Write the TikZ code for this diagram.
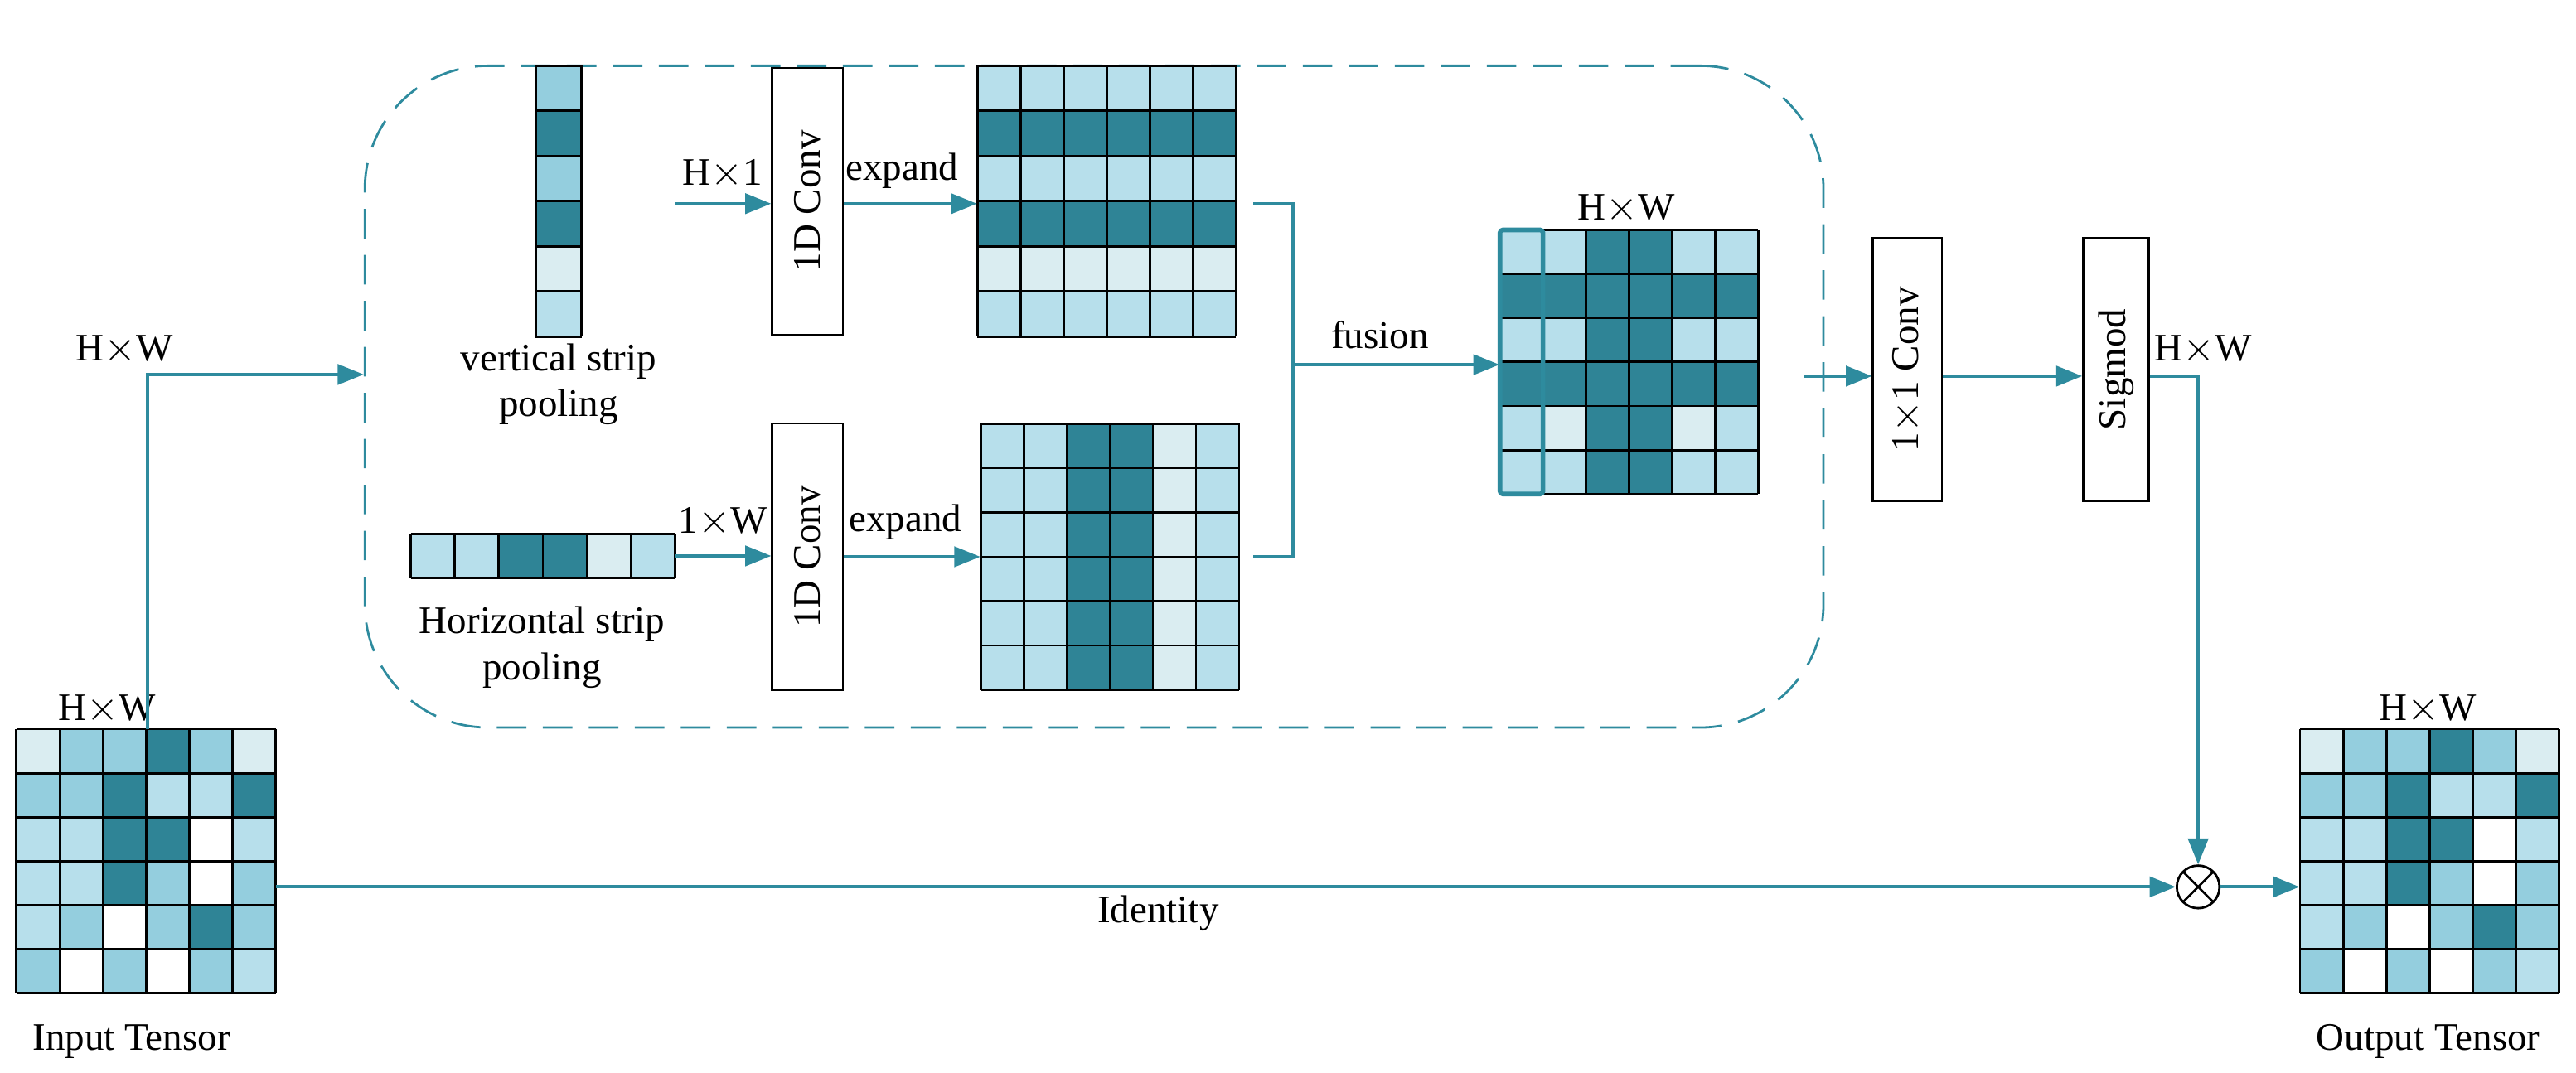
\documentclass[tikz,border=0pt]{standalone}
\usepackage{fontspec}
\setmainfont{Liberation Serif}
\usetikzlibrary{arrows.meta,fit}
\definecolor{cD}{HTML}{2F8496}
\definecolor{cM}{HTML}{94CEDE}
\definecolor{cL}{HTML}{B7DFEB}
\definecolor{cP}{HTML}{DAEDF1}
\definecolor{cW}{HTML}{FFFFFF}
\definecolor{teal}{HTML}{2E8B9E}
\tikzset{
  arr/.style={teal,line width=1.1pt,-{Triangle[length=9pt,width=7pt]}},
  ln/.style={teal,line width=1.1pt},
  lbl/.style={font=\fontsize{13.5}{16}\selectfont,inner sep=1pt},
  box/.style={draw,black,line width=0.7pt,fill=white,minimum width=0.86cm,minimum height=3.25cm,inner sep=0pt,font=\fontsize{13.5}{16}\selectfont},
}
% name, x0, y0, cw, ch, rows, ncol, nrow
\newcommand\tgrid[8]{%
  \foreach \row [count=\r from 0] in {#6}{%
    \foreach \c [count=\k from 0] in \row {%
      \fill[c\c] ({#2+\k*#4},{#3+\r*#5}) rectangle ++(#4,#5);}}
  \foreach \i in {0,...,#7}{\draw[black,line width=0.8pt] ({#2+\i*#4},#3) -- ++(0,{#8*#5});}
  \foreach \j in {0,...,#8}{\draw[black,line width=0.8pt] (#2,{#3+\j*#5}) -- ++({#7*#4},0);}
  \coordinate (#1-a) at (#2,#3);
  \coordinate (#1-b) at ({#2+#7*#4},{#3+#8*#5});
  \node[fit=(#1-a)(#1-b),inner sep=0pt] (#1) {};
}
\begin{document}
\begin{tikzpicture}[x=0.02cm,y=-0.02cm]
\useasboundingbox (0,0) rectangle (1568,653);
% dashed region
\node[draw=teal,line width=0.8pt,dash pattern=on 0.36cm off 0.2cm,rounded corners=1.5cm,
  minimum width=17.76cm,minimum height=8.06cm,inner sep=0pt] (region) at (666,241.5) {};
% vertical strip
\tgrid{vs}{326}{40}{28}{27.5}{{M},{D},{M},{D},{P},{L}}{1}{6}
\node[lbl,align=center] (vsl) at (340,234) {vertical strip\\pooling};
% horizontal strip
\tgrid{hs}{250}{325}{26.8}{27}{{L,L,D,D,P,L}}{6}{1}
\node[lbl,align=center] (hsl) at (330,394) {Horizontal strip\\pooling};
% conv boxes
\node[box] (c1) at (491.5,122.5) {\rotatebox{90}{1D Conv}};
\node[box] (c2) at (491.5,339) {\rotatebox{90}{1D Conv}};
% expanded grids
\tgrid{g1}{595}{40}{26.2}{27.5}{{L,L,L,L,L,L},{D,D,D,D,D,D},{L,L,L,L,L,L},{D,D,D,D,D,D},{P,P,P,P,P,P},{L,L,L,L,L,L}}{6}{6}
\tgrid{g2}{597}{258}{26.2}{27}{{L,L,D,D,P,L},{L,L,D,D,P,L},{L,L,D,D,P,L},{L,L,D,D,P,L},{L,L,D,D,P,L},{L,L,D,D,P,L}}{6}{6}
% arrows in branches
\coordinate (h1s) at (411,124);
\coordinate (h2s) at (411,339);
\draw[arr] (h1s) -- (c1.west|-h1s);
\node[lbl] (h1l) at (440,106) {H$\times$1};
\draw[arr] (hs.east) -- (c2.west|-hs.east);
\node[lbl] (h2l) at (440,318) {1$\times$W};
\draw[arr] (c1.east|-h1s) -- (g1.west|-h1s);
\node[lbl] (e1) at (549,104) {expand};
\draw[arr] (c2.east|-h2s) -- (g2.west|-h2s);
\node[lbl] (e2) at (551,318) {expand};
% fusion grid
\tgrid{fg}{913}{140}{26.2}{26.8}{{L,L,D,D,L,L},{D,D,D,D,D,D},{L,L,D,D,L,L},{D,D,D,D,D,D},{L,P,D,D,P,L},{L,L,D,D,L,L}}{6}{6}
\draw[teal,line width=1.6pt,rounded corners=1pt] (913,140) rectangle (939.2,300.8);
\node[lbl] (fgl) at (990,127) {H$\times$W};
% fusion connectors
\coordinate (f1) at (763,124);
\coordinate (f2) at (763,339);
\coordinate (fm) at (787,222);
\draw[ln] (f1) -- (787,124) -- (787,339) -- (f2);
\draw[arr] (fm) -- (fg.west|-fm);
\node[lbl] (fl) at (840,204) {fusion};
% 1x1 conv and sigmoid
\node[box,minimum width=0.84cm,minimum height=3.2cm] (c3) at (1161,225) {\rotatebox{90}{1$\times$1 Conv}};
\node[box,minimum width=0.8cm,minimum height=3.2cm] (sg) at (1288,225) {\rotatebox{90}{Sigmod}};
\coordinate (fo) at (1098,229);
\draw[arr] (fo) -- (c3.west|-fo);
\draw[arr] (c3.east|-fo) -- (sg.west|-fo);
\node[lbl] (sgl) at (1341,213) {H$\times$W};
% input tensor
\tgrid{in}{10}{444}{26.3}{26.8}{{P,M,M,D,M,P},{M,M,D,L,L,D},{L,L,D,D,W,L},{L,L,D,M,W,M},{L,M,W,M,D,M},{M,W,M,W,M,L}}{6}{6}
\node[lbl] (inl) at (65,432) {H$\times$W};
\node[lbl] (int) at (80,634) {Input Tensor};
% output tensor
\tgrid{out}{1400}{444}{26.3}{26.8}{{P,M,M,D,M,P},{M,M,D,L,L,D},{L,L,D,D,W,L},{L,L,D,M,W,M},{L,M,W,M,D,M},{M,W,M,W,M,L}}{6}{6}
\node[lbl] (outl) at (1478,432) {H$\times$W};
\node[lbl] (outt) at (1478,634) {Output Tensor};
% multiply
\node[draw=black,circle,line width=0.8pt,minimum size=0.52cm,inner sep=0pt,
  path picture={\draw[black,line width=0.8pt] (path picture bounding box.north west) -- (path picture bounding box.south east)
  (path picture bounding box.north east) -- (path picture bounding box.south west);}] (mul) at (1338,540) {};
% main connectors
\draw[arr] (90,444) -- (90,228) -- (region.west|-0,228);
\node[lbl] (hwl) at (76,213) {H$\times$W};
\draw[arr] (in.east|-mul) -- (mul.west);
\node[lbl] (idl) at (705,556) {Identity};
\draw[arr] (sg.east|-fo) -- (1338,229) -- (mul.north);
\draw[arr] (mul.east) -- (out.west|-mul);
\end{tikzpicture}
\end{document}
